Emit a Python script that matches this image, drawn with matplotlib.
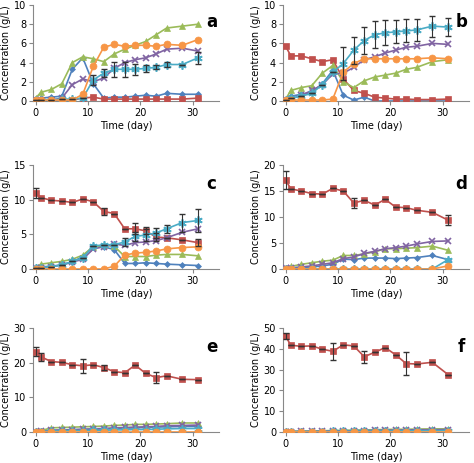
import numpy as np
import matplotlib.pyplot as plt

days = [0, 1, 3, 5, 7, 9, 11, 13, 15, 17, 19, 21, 23, 25, 28, 31]

# panel a
a_blue = [0.1, 0.3, 0.4, 0.5, 3.3, 4.5, 1.8, 0.3, 0.4, 0.4, 0.5, 0.6, 0.5, 0.8, 0.7, 0.7]
a_red = [0.1, 0.1, 0.1, 0.1, 0.1, 0.3, 0.4, 0.2, 0.2, 0.2, 0.2, 0.2, 0.2, 0.2, 0.2, 0.3]
a_green = [0.3, 0.9, 1.2, 1.8, 4.0, 4.6, 4.4, 4.1, 4.9, 5.4, 5.8, 6.2, 6.9, 7.6, 7.8, 8.0]
a_purple = [0.1, 0.1, 0.1, 0.3, 1.7, 2.3, 2.0, 2.4, 3.4, 4.0, 4.3, 4.5, 4.9, 5.4, 5.5, 5.2]
a_cyan = [0.1, 0.1, 0.1, 0.2, 0.2, 0.3, 2.2, 2.9, 3.3, 3.3, 3.3, 3.4, 3.5, 3.8, 3.8, 4.5]
a_orange = [0.1, 0.1, 0.1, 0.1, 0.1, 0.7, 3.6, 5.6, 5.9, 5.7, 5.8, 5.8, 5.7, 5.9, 5.8, 6.4]
a_cyan_err = [0, 0, 0, 0, 0, 0, 0.5, 0.4, 0.8, 0.8, 0.6, 0.4, 0.2, 0.3, 0, 0.6]

# panel b
b_blue = [0.1, 0.5, 0.7, 0.9, 1.8, 3.2, 0.6, 0.1, 0.4, 0.0, 0.0, 0.0, 0.0, 0.0, 0.0, 0.0]
b_red = [5.7, 4.7, 4.7, 4.4, 4.1, 4.3, 2.3, 1.1, 0.8, 0.4, 0.3, 0.2, 0.2, 0.15, 0.15, 0.2]
b_green = [0.2, 1.1, 1.4, 1.6, 2.9, 3.7, 2.0, 1.4, 2.1, 2.5, 2.7, 2.9, 3.3, 3.5, 4.1, 4.3]
b_purple = [0.1, 0.2, 0.6, 1.1, 1.7, 2.8, 2.9, 3.5, 4.3, 4.6, 5.0, 5.3, 5.6, 5.7, 6.0, 5.9]
b_cyan = [0.1, 0.3, 0.5, 0.8, 1.7, 3.0, 3.9, 5.3, 6.3, 6.9, 7.1, 7.2, 7.3, 7.4, 7.8, 7.7]
b_orange = [0.1, 0.1, 0.1, 0.1, 0.1, 0.2, 3.0, 3.9, 4.4, 4.4, 4.4, 4.4, 4.4, 4.4, 4.5, 4.4]
b_cyan_err = [0, 0, 0, 0, 0, 0, 1.7, 1.4, 1.4, 1.4, 1.3, 1.2, 1.2, 1.1, 1.1, 0.9]

# panel c
c_blue = [0.1, 0.3, 0.4, 0.6, 1.0, 1.8, 3.3, 3.2, 2.8, 0.8, 0.8, 0.9, 0.8, 0.7, 0.6, 0.5]
c_red = [11.0, 10.3, 9.9, 9.8, 9.6, 10.1, 9.7, 8.3, 8.0, 5.8, 5.8, 5.5, 4.6, 4.5, 4.2, 3.8]
c_green = [0.3, 0.7, 0.9, 1.1, 1.4, 2.0, 3.2, 3.4, 3.3, 1.8, 1.8, 1.8, 2.0, 2.1, 2.1, 1.9]
c_purple = [0.1, 0.2, 0.3, 0.6, 1.0, 1.4, 2.9, 3.2, 3.6, 3.4, 3.8, 3.9, 4.1, 4.5, 5.3, 5.8]
c_cyan = [0.1, 0.2, 0.3, 0.6, 1.1, 1.6, 3.3, 3.5, 3.5, 3.9, 4.7, 4.9, 5.2, 5.8, 6.7, 7.0]
c_orange = [0.0, 0.0, 0.0, 0.0, 0.0, 0.0, 0.0, 0.0, 0.4, 2.0, 2.3, 2.4, 2.6, 2.9, 3.1, 3.2]
c_red_err = [0.7, 0, 0, 0, 0, 0, 0, 0.5, 0, 0, 0.8, 0.5, 0.6, 0, 0, 0.5]
c_cyan_err = [0, 0, 0, 0, 0, 0, 0, 0, 0, 0.6, 0.7, 0.8, 0.7, 0.6, 1.3, 1.7]

# panel d
d_blue = [0.1, 0.2, 0.3, 0.4, 0.6, 0.9, 1.9, 1.8, 2.1, 2.1, 2.1, 2.0, 2.1, 2.2, 2.6, 1.8]
d_red = [17.1, 15.4, 15.0, 14.5, 14.4, 15.5, 15.0, 12.7, 13.2, 12.3, 13.4, 11.9, 11.8, 11.3, 10.9, 9.4]
d_green = [0.2, 0.5, 0.9, 1.2, 1.5, 1.7, 2.6, 2.6, 2.9, 3.3, 3.9, 3.9, 4.0, 4.1, 4.4, 3.6]
d_purple = [0.1, 0.2, 0.4, 0.6, 0.9, 1.2, 2.0, 2.3, 3.0, 3.4, 3.9, 4.1, 4.4, 4.8, 5.3, 5.4]
d_cyan = [0.0, 0.0, 0.0, 0.0, 0.0, 0.0, 0.0, 0.0, 0.0, 0.0, 0.0, 0.0, 0.0, 0.0, 0.0, 1.8]
d_orange = [0.0, 0.0, 0.0, 0.0, 0.0, 0.0, 0.0, 0.0, 0.0, 0.0, 0.0, 0.0, 0.0, 0.0, 0.0, 0.6]
d_red_err = [1.8, 0, 0, 0, 0, 0, 0, 0.9, 0, 0, 0, 0, 0, 0, 0, 1.0]

# panel e
e_blue = [0.1, 0.2, 0.4, 0.5, 0.6, 0.7, 0.8, 0.9, 1.0, 1.1, 1.2, 1.3, 1.4, 1.5, 1.6, 1.6]
e_red = [23.2, 21.7, 20.3, 20.1, 19.4, 19.1, 19.4, 18.6, 17.4, 17.1, 19.3, 16.9, 15.7, 16.2, 15.2, 15.1]
e_green = [0.3, 0.4, 1.2, 1.3, 1.4, 1.5, 1.6, 1.7, 1.9, 2.0, 2.2, 2.2, 2.3, 2.4, 2.6, 2.6]
e_purple = [0.1, 0.2, 0.5, 0.6, 0.7, 0.8, 0.9, 1.0, 1.2, 1.3, 1.4, 1.5, 1.6, 1.8, 1.9, 2.0]
e_cyan = [0.1, 0.1, 0.3, 0.3, 0.4, 0.4, 0.5, 0.5, 0.6, 0.6, 0.7, 0.7, 0.8, 0.9, 1.0, 1.0]
e_orange = [0.0] * 16
e_red_err = [1.2, 1.2, 0, 0, 0, 2.0, 0, 0.6, 0, 0, 0, 0, 1.5, 0, 0, 0]

# panel f
f_blue = [0.1, 0.1, 0.2, 0.2, 0.3, 0.3, 0.3, 0.4, 0.4, 0.5, 0.5, 0.6, 0.6, 0.7, 0.7, 0.8]
f_red = [46.0, 41.7, 41.2, 41.4, 39.8, 38.8, 41.9, 41.4, 36.2, 38.3, 40.6, 37.1, 32.9, 32.7, 33.5, 27.6]
f_green = [0.2, 0.3, 0.4, 0.5, 0.6, 0.7, 0.8, 0.9, 1.0, 1.1, 1.2, 1.3, 1.3, 1.4, 1.5, 1.5]
f_purple = [0.1, 0.2, 0.3, 0.3, 0.4, 0.5, 0.6, 0.6, 0.7, 0.8, 0.9, 0.9, 1.0, 1.1, 1.1, 1.2]
f_cyan = [0.1, 0.1, 0.2, 0.2, 0.2, 0.3, 0.3, 0.4, 0.4, 0.4, 0.5, 0.5, 0.6, 0.6, 0.7, 0.7]
f_orange = [0.0] * 16
f_red_err = [1.5, 0, 0, 0, 0, 4.2, 0, 0, 2.8, 0, 0, 0, 5.5, 0, 0, 0]

colors = ["#4F81BD", "#C0504D", "#9BBB59", "#8064A2", "#4BACC6", "#F79646"]
markers = ["D", "s", "^", "x", (6, 2, 0), "o"]
msizes = [3, 4.5, 4.5, 5, 6, 5]

panels = [
    ("a", 10, 2, [a_blue, a_red, a_green, a_purple, a_cyan, a_orange], {4: a_cyan_err}),
    ("b", 10, 2, [b_blue, b_red, b_green, b_purple, b_cyan, b_orange], {4: b_cyan_err}),
    ("c", 15, 5, [c_blue, c_red, c_green, c_purple, c_cyan, c_orange], {1: c_red_err, 4: c_cyan_err}),
    ("d", 20, 5, [d_blue, d_red, d_green, d_purple, d_cyan, d_orange], {1: d_red_err}),
    ("e", 30, 10, [e_blue, e_red, e_green, e_purple, e_cyan, e_orange], {1: e_red_err}),
    ("f", 50, 10, [f_blue, f_red, f_green, f_purple, f_cyan, f_orange], {1: f_red_err}),
]

W, H = 474, 463
fig = plt.figure(figsize=(W / 100, H / 100), dpi=100)
lefts = [33, 283]
rows = [(5, 101), (165, 269), (328, 432)]

for i, (lab, ymax, ystep, series, errs) in enumerate(panels):
    l = lefts[i % 2]
    top, bot = rows[i // 2]
    ax = fig.add_axes([l / W, 1 - bot / H, 186 / W, (bot - top) / H])
    for k, ys in enumerate(series):
        ax.plot(days, ys, color=colors[k], marker=markers[k], markersize=msizes[k],
                linewidth=1.2, markeredgewidth=1.2 if k in (3, 4) else 0.5, zorder=2 + k)
        if k in errs:
            ax.errorbar(days, ys, yerr=errs[k], fmt="none", ecolor="#333333",
                        elinewidth=0.8, capsize=2, zorder=10)
    ax.set_xlim(-0.5, 35)
    ax.set_ylim(0, ymax)
    ax.set_xticks([0, 10, 20, 30])
    ax.set_yticks(np.arange(0, ymax + 1, ystep))
    ax.tick_params(labelsize=7, length=3, color="#888888", pad=2)
    for s in ("top", "right"):
        ax.spines[s].set_visible(False)
    ax.spines["left"].set_color("#888888")
    ax.spines["bottom"].set_color("#888888")
    ax.set_xlabel("Time (day)", fontsize=7, labelpad=2)
    ax.set_ylabel("Concentration (g/L)", fontsize=7, labelpad=2)
    ax.text(0.96, 0.82, lab, transform=ax.transAxes, fontsize=12,
            fontweight="bold", ha="center", va="center")

fig.savefig("out.png", dpi=100)
